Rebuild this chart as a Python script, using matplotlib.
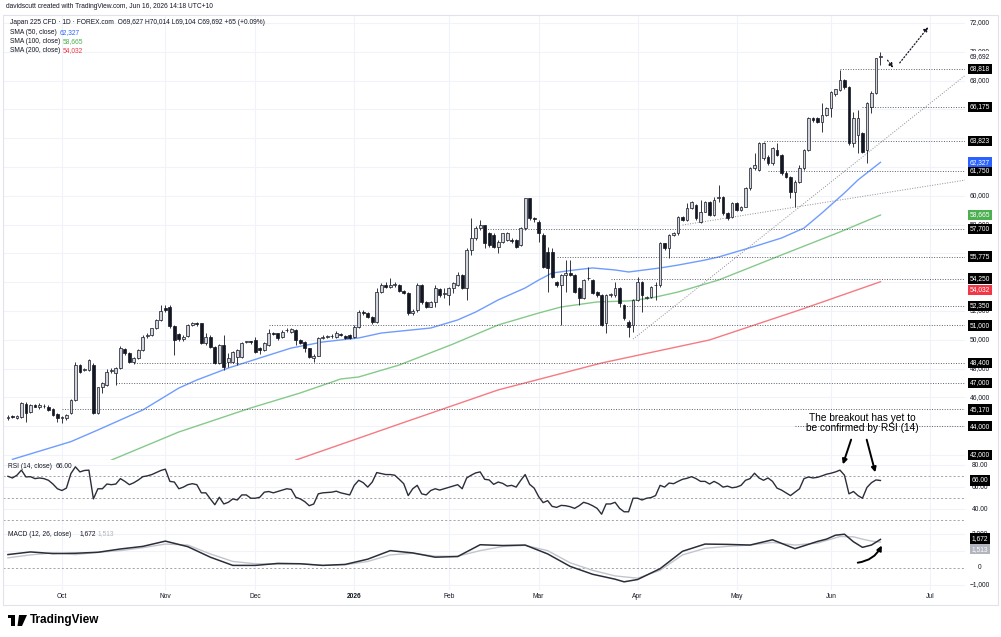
import numpy as np
import pandas as pd
import matplotlib
matplotlib.use("Agg")
import matplotlib.pyplot as plt
from matplotlib.transforms import blended_transform_factory
from matplotlib.patches import Rectangle, FancyArrowPatch, Polygon

plt.rcParams['font.family'] = ['Liberation Sans', 'DejaVu Sans']

# ---- data ----
holidays = pd.to_datetime(['2025-12-25', '2026-01-01'])
all_days = pd.bdate_range('2025-09-15', '2026-07-31')
all_days = all_days[~all_days.isin(holidays)]

opens = [44550, 44700, 44600, 44620, 45540, 45010, 45470, 45310, 45400, 45360,
         45190, 44850, 44600, 44550, 44890, 45820, 48250, 47900, 47900, 48250,
         44900, 46750, 46860, 47850, 47710, 48020, 49340, 49110, 48480, 48710,
         49290, 50250, 50330, 50800, 51380, 52200, 52250, 50960, 50400, 50030,
         50260, 51030, 51150, 51140, 49760, 50220, 49520, 48370, 49640, 48480,
         48480, 48830, 48830, 49850, 49870, 49990, 49400, 49290, 49640, 50450,
         50450, 50220, 50650, 50570, 50680, 49990, 49870, 49410, 48710, 48900,
         50150, 50200, 50250, 50220, 50350, 50260, 50330, 50220, 50910, 51950,
         51850, 51610, 51260, 53340, 53810, 53700, 53800, 53810, 53400, 53230,
         51840, 52100, 53810, 52600, 52300, 52600, 53530, 53200, 53110, 53580,
         53810, 54500, 53580, 56240, 57050, 57740, 57970, 57400, 57300, 56470,
         56820, 56940, 56960, 56940, 56580, 57740, 59830, 58440, 58200, 57280,
         56120, 56120, 54040, 53810, 54500, 54620, 54500, 53580, 52880, 54270,
         54150, 53340, 53110, 51140, 53110, 53110, 53580, 52420, 51260, 51030,
         52760, 54040, 52880, 53000, 53800, 53810, 56700, 56350, 57280, 57390,
         58550, 58320, 59130, 59360, 58200, 58900, 59590, 58670, 59820, 59940,
         58780, 58550, 59480, 59010, 59250, 60520, 61910, 61790, 62600, 62720,
         62250, 63180, 62830, 61610, 61330, 60290, 60980, 61910, 63180, 65380,
         65380, 65150, 65610, 66070, 67050, 67350, 68040, 67530, 63640, 64220,
         64340, 63180, 66190, 67160, 69627]
highs = [44750, 44800, 44800, 45700, 45650, 45550, 45550, 45600, 45550, 45450,
         45250, 44900, 44700, 44850, 45900, 48450, 48350, 48050, 48650, 48400,
         46750, 47050, 47950, 48050, 48100, 49550, 49400, 49150, 48800, 49350,
         50350, 50450, 50850, 51450, 52420, 52420, 52450, 51050, 50500, 50300,
         51100, 51260, 51260, 51200, 50500, 50300, 49600, 49700, 50330, 49060,
         49250, 49350, 49850, 49950, 49950, 50220, 49500, 49850, 50730, 50550,
         50500, 50650, 50800, 50800, 50750, 50050, 49950, 49450, 49000, 50220,
         50300, 50350, 50400, 50600, 50450, 50350, 50400, 51000, 52070, 52070,
         51900, 51650, 53580, 53920, 54040, 54270, 54000, 53900, 53450, 53300,
         52150, 53920, 53900, 52700, 52700, 53810, 53600, 53580, 53700, 54000,
         54730, 54600, 56400, 58440, 57900, 58320, 58000, 57500, 57400, 56900,
         57450, 57500, 57050, 57000, 57850, 59870, 59870, 58550, 58300, 57400,
         56470, 56350, 54100, 54600, 55540, 55540, 54600, 53650, 54250, 55080,
         54250, 53400, 53200, 53200, 53250, 54040, 53650, 52500, 51350, 52850,
         54390, 54100, 53050, 53750, 54040, 56800, 56750, 57350, 57510, 58600,
         58600, 59480, 59650, 59450, 59700, 59650, 59650, 59940, 60750, 60000,
         58850, 59600, 59550, 59300, 60600, 62000, 62950, 63750, 63750, 62800,
         63400, 63640, 62900, 61700, 61400, 61100, 62140, 63250, 65450, 65450,
         65450, 66420, 66150, 67300, 67450, 68740, 68100, 67600, 65840, 65960,
         64400, 66500, 67300, 69600, 70014]
lows = [44450, 44550, 44500, 44550, 44300, 44950, 45300, 45200, 45250, 45050,
        44700, 44300, 44200, 44450, 44850, 45750, 47700, 47800, 47850, 44850,
        44850, 46280, 46800, 47700, 46860, 47950, 48950, 48400, 48300, 48650,
        49200, 50100, 50250, 50750, 51300, 51950, 50850, 48950, 49900, 49950,
        50200, 50950, 50950, 49700, 49640, 49450, 48300, 48300, 47900, 48135,
        48400, 48250, 48750, 49750, 49700, 49060, 49000, 49200, 49600, 50300,
        50000, 50150, 50550, 50500, 49640, 49700, 49180, 48750, 48480, 48850,
        50050, 50100, 50150, 50150, 50250, 50050, 50050, 50150, 50800, 51750,
        51500, 51080, 51150, 53250, 53600, 53580, 53700, 53300, 53150, 51750,
        51700, 51950, 52500, 52200, 52250, 52300, 53000, 52880, 52420, 53230,
        53750, 53500, 52770, 55900, 56950, 57650, 56350, 56450, 56350, 56000,
        56700, 56850, 56700, 56350, 56500, 57650, 58300, 58200, 56800, 55000,
        53340, 54300, 53700, 51030, 53340, 54400, 53250, 52420, 52800, 54150,
        53150, 53000, 50950, 50450, 53000, 53000, 52300, 51400, 50220, 50570,
        52700, 51950, 52800, 52900, 52760, 53700, 56250, 55660, 57200, 57300,
        58250, 58250, 59050, 58350, 58100, 58850, 58600, 58600, 59590, 58700,
        58350, 58440, 58950, 58950, 59200, 60400, 61800, 61700, 62500, 62150,
        62150, 62750, 61450, 61250, 59820, 59240, 60900, 61800, 63100, 65150,
        65050, 64450, 65550, 65500, 66950, 67300, 67450, 63550, 63410, 62950,
        63000, 62250, 65730, 67100, 69104]
closes = [44650, 44620, 44680, 45590, 44940, 45470, 45360, 45470, 45380, 45120,
          44780, 44550, 44650, 44780, 45820, 48250, 47790, 47950, 48600, 44900,
          46700, 46980, 47790, 47900, 48020, 49410, 49060, 48480, 48710, 49290,
          50220, 50340, 50800, 51380, 52020, 52100, 50960, 49990, 50050, 50220,
          51030, 51140, 51120, 49800, 50220, 49520, 48370, 49640, 48135, 48710,
          49180, 49290, 49750, 49870, 49850, 49180, 49300, 49750, 50450, 50420,
          50100, 50570, 50700, 50730, 49990, 49800, 49410, 48830, 48900, 50100,
          50220, 50220, 50260, 50500, 50330, 50100, 50150, 50910, 51950, 51850,
          51610, 51260, 53340, 53810, 53700, 53810, 53880, 53390, 53230, 51840,
          52000, 53810, 52600, 52300, 52600, 53580, 53110, 53230, 53580, 53920,
          54500, 53580, 56240, 57050, 57740, 57970, 56700, 56580, 56470, 56820,
          57400, 57400, 56850, 56470, 57740, 59830, 58440, 58400, 57400, 55080,
          54960, 54390, 53810, 54500, 54620, 54500, 53340, 52880, 54150, 54300,
          53230, 53110, 51030, 53110, 53150, 53580, 52530, 51490, 50910, 52760,
          54040, 53110, 53000, 53690, 53810, 56700, 56350, 57280, 57390, 58550,
          58320, 59130, 59590, 58440, 58900, 59590, 58670, 59700, 59940, 58780,
          58440, 59480, 59010, 59250, 60520, 61910, 62140, 63640, 63640, 62250,
          63300, 62830, 61560, 61330, 60290, 60980, 61910, 63180, 65380, 65260,
          65150, 65610, 66070, 67230, 67390, 68040, 67530, 63640, 65380, 65380,
          63060, 66420, 67160, 69550, 69692]

sma50_bar = [1, 14, 20, 30, 38, 42, 49, 56, 63, 70, 78, 83, 94, 100, 104, 109, 115,
             118, 121, 126, 130, 135, 138, 145, 149, 155, 158, 167, 172, 177, 181,
             186, 189, 194]
sma50_val = [41700, 42930, 43740, 45130, 46650, 47210, 48040, 48740, 49430, 49850,
             50130, 50470, 50820, 51380, 51930, 52770, 53600, 54150, 54640, 54850,
             54990, 54850, 54710, 54990, 55190, 55540, 55750, 56580, 57070, 57760,
             58810, 60200, 61100, 62327]
sma100_bar = [23, 38, 54, 65, 74, 78, 87, 99, 109, 118, 123, 131, 138, 143, 149, 158,
              172, 185, 194]
sma100_val = [41650, 43600, 45270, 46310, 47280, 47420, 48250, 49710, 51030, 51860,
              52280, 52630, 52700, 52900, 53320, 54150, 55890, 57490, 58665]
sma200_bar = [64, 87, 109, 132, 156, 176, 194]
sma200_val = [41650, 44150, 46520, 48390, 49990, 52070, 54032]

rsi = [69.8, 68.3, 70.8, 75.4, 69.2, 69.5, 67.7, 68.3, 67.7, 66.2,
       62.8, 58.5, 56.9, 59.1, 72.3, 78.4, 73.8, 75.1, 75.4, 49.3,
       58.5, 58.5, 62.8, 62.2, 62.8, 67.7, 65.2, 62.2, 64.0, 66.5,
       69.5, 70.2, 71.4, 73.2, 75.1, 76.3, 65.2, 64.6, 58.5, 60.0,
       62.2, 63.1, 62.2, 54.8, 54.8, 49.3, 44.0, 50.8, 44.7, 46.2,
       49.3, 48.3, 52.9, 52.9, 49.9, 49.9, 50.8, 55.4, 56.0, 54.8,
       56.0, 57.3, 58.5, 57.9, 50.8, 49.3, 46.8, 43.1, 44.7, 53.9,
       54.8, 55.1, 55.4, 56.3, 54.8, 53.9, 52.9, 61.6, 66.2, 64.0,
       60.0, 64.6, 73.2, 72.3, 71.4, 71.4, 70.8, 67.1, 63.1, 52.3,
       58.5, 61.6, 53.9, 52.9, 56.9, 58.5, 57.3, 58.5, 59.7, 60.9,
       62.2, 58.5, 68.3, 70.8, 72.9, 73.8, 67.1, 66.5, 62.5, 64.6,
       63.4, 60.9, 61.6, 60.0, 66.0, 71.4, 62.5, 59.1, 51.4, 45.9,
       47.7, 42.5, 41.6, 43.4, 43.1, 42.2, 40.7, 43.1, 46.2, 45.0,
       43.1, 40.7, 35.4, 44.7, 44.7, 46.2, 40.7, 37.6, 37.6, 49.9,
       49.9, 48.3, 49.9, 50.5, 52.3, 61.6, 60.0, 63.7, 63.1, 65.2,
       67.1, 68.0, 69.5, 67.7, 65.2, 65.2, 62.8, 65.2, 63.1, 60.0,
       60.9, 59.4, 60.0, 61.6, 66.2, 67.7, 72.6, 68.3, 66.2, 68.3,
       65.2, 59.1, 57.3, 54.8, 52.3, 55.4, 58.5, 67.7, 69.2, 68.3,
       68.9, 70.2, 71.7, 72.6, 73.8, 75.4, 70.8, 53.9, 56.0, 52.3,
       49.9, 59.7, 64.0, 66.5, 66.0]

macd_bar = [0, 5, 10, 15, 20, 25, 30, 35, 40, 45, 50, 55, 60, 65, 70, 75, 80, 85,
            90, 95, 100, 105, 110, 115, 120, 125, 130, 135, 137, 140, 145, 150,
            155, 160, 165, 170, 175, 180, 182, 184, 186, 188, 190, 192, 194]
macd_val = [774, 930, 833, 852, 910, 1105, 1260, 1571, 1241, 619, 133, 133, 250,
            230, 133, 191, 502, 1008, 872, 619, 658, 1357, 1310, 1338, 813, 75,
            -392, -684, -840, -703, -62, 969, 1396, 1377, 1338, 1649, 1124, 1552,
            1688, 1921, 1980, 1532, 1202, 1338, 1672]
signal_bar = [0, 5, 10, 15, 20, 25, 30, 35, 40, 45, 50, 55, 60, 65, 70, 75, 80, 85,
              90, 95, 100, 105, 110, 115, 120, 125, 130, 135, 140, 145, 150, 155,
              160, 165, 170, 175, 180, 185, 188, 190, 192, 194]
signal_val = [580, 755, 872, 774, 910, 1008, 1183, 1396, 1338, 813, 366, 230, 211,
              230, 133, 172, 366, 755, 852, 677, 677, 1008, 1250, 1319, 1008, 288,
              -159, -489, -625, -159, 755, 1144, 1260, 1338, 1494, 1338, 1455, 1843,
              1824, 1688, 1571, 1513]

# support / resistance levels and the bar each dotted line starts from
levels = [68818, 66175, 63823, 61750, 57700, 55775, 54250, 52350, 51000, 48400,
          47000, 45170, 44000]
level_start = [185, 190, 168, 169, 106, 122, 134, 137, 58, 28, 24, 12, 175]
trend1 = ([139, 213], [50050, 68400])
trend2 = ([150, 213], [57970, 61100])
# round-number scale labels that stay visible next to the level boxes
scale_ticks = [72000, 70000, 68000, 60000, 58000, 52000, 50000, 48000, 46000]

# ---- layout helpers ----
W, H = 1001, 637
FS = 4.8
DARK = '#131722'


def fx(px):
    return px / W


def fy(py):
    return 1 - py / H


fig = plt.figure(figsize=(W / 100, H / 100), dpi=100)
ax = fig.add_axes([fx(3), fy(460), fx(962), (460 - 15) / H])
ax_rsi = fig.add_axes([fx(3), fy(525), fx(962), (525 - 461) / H], sharex=ax)
ax_macd = fig.add_axes([fx(3), fy(590), fx(962), (590 - 526) / H], sharex=ax)

n = len(closes)
x = np.arange(n)
month_pos = [i for i in range(1, len(all_days)) if all_days[i].month != all_days[i - 1].month]
month_pos = [p for p in month_pos if p < 213]
month_lbl = [all_days[p].strftime('%b') if all_days[p].month != 1 else str(all_days[p].year)
             for p in month_pos]

for a in (ax, ax_rsi, ax_macd):
    a.set_xlim(-1.1, 212.8)
    for s in a.spines.values():
        s.set_visible(False)
    a.tick_params(left=False, bottom=False, labelleft=False, labelbottom=False)
    for p in month_pos:
        a.axvline(p, color='#f0f3fa', lw=0.8, zorder=0)
ax.axhline(41654, color='#e0e3eb', lw=0.8)
ax_rsi.axhline(25.6, color='#e0e3eb', lw=0.8)

# ---- main price panel ----
ax.set_ylim(41654, 72556)
for gy in range(42000, 72001, 2000):
    ax.axhline(gy, color='#f0f3fa', lw=0.8, zorder=0)

o = np.array(opens)
c = np.array(closes)
up = c >= o
bot = np.minimum(o, c)
hgt = np.maximum(np.abs(c - o), 40)
ax.vlines(x, lows, highs, color=DARK, lw=0.6, zorder=3)
ax.bar(x[up], hgt[up], bottom=bot[up], width=0.62, color='#d1d4dc',
       edgecolor=DARK, linewidth=0.5, zorder=4)
ax.bar(x[~up], hgt[~up], bottom=bot[~up], width=0.62, color=DARK,
       edgecolor=DARK, linewidth=0.5, zorder=4)

ax.plot(sma50_bar, sma50_val, color='#6f9cff', lw=1.0, zorder=2)
ax.plot(sma100_bar, sma100_val, color='#86c98a', lw=1.0, zorder=2)
ax.plot(sma200_bar, sma200_val, color='#f57a82', lw=1.0, zorder=2)

for lv, st in zip(levels, level_start):
    ax.hlines(lv, st, 212.8, color='#5d606b', lw=0.7, linestyle=(0, (1, 1.6)), zorder=2)
ax.plot(*trend1, color='#8a8d96', lw=0.7, linestyle=(0, (1, 1.6)), zorder=2)
ax.plot(*trend2, color='#8a8d96', lw=0.7, linestyle=(0, (1, 1.6)), zorder=2)

# projected path arrows
ax.annotate('', xy=(197.2, 68740), xytext=(195.2, 69570),
            arrowprops=dict(arrowstyle='-|>', lw=0.9, ls=':', color=DARK, mutation_scale=6))
ax.annotate('', xy=(205, 71860), xytext=(197.9, 69080),
            arrowprops=dict(arrowstyle='-|>', lw=0.9, ls=':', color=DARK, mutation_scale=6))

# ---- RSI panel ----
ax_rsi.set_ylim(25.6, 83.7)
for gy in (80, 60, 40):
    ax_rsi.axhline(gy, color='#f0f3fa', lw=0.8, zorder=0)
for gy in (70, 50, 30):
    ax_rsi.axhline(gy, color='#9598a1', lw=0.6, linestyle=(0, (2.5, 2.5)), zorder=1)
ax_rsi.plot(x, rsi, color='#2a2e39', lw=1.0, zorder=3)

# ---- MACD panel ----
ax_macd.set_ylim(-1324, 2466)
for gy in (2000, 1000, -1000):
    ax_macd.axhline(gy, color='#f0f3fa', lw=0.8, zorder=0)
ax_macd.axhline(0, color='#9598a1', lw=0.6, linestyle=(0, (2.5, 2.5)), zorder=1)
ax_macd.plot(signal_bar, signal_val, color='#c3c5cc', lw=1.0, zorder=2)
ax_macd.plot(macd_bar, macd_val, color='#2a2e39', lw=1.1, zorder=3)


# ---- right price scale ----
def scale_label(a, y, text, fc=None, tc=DARK, dy=0):
    # dy: pixel shift used where the scale pushes crowded labels apart
    tr = blended_transform_factory(fig.transFigure, a.transData)
    kw = dict(transform=tr, ha='center', va='center', fontsize=FS, color=tc,
              clip_on=False, zorder=10)
    if fc is not None:
        kw['bbox'] = dict(boxstyle='square,pad=0.25', fc=fc, ec='none')
    t = a.text(fx(980), y, text, **kw)
    if dy:
        import matplotlib.transforms as mtransforms
        t.set_transform(tr + mtransforms.ScaledTranslation(0, -dy / 100, fig.dpi_scale_trans))


for gy in scale_ticks:
    scale_label(ax, gy, f'{gy:,}')
scale_label(ax, 69692, '69,692', fc='white')
for lv in levels:
    scale_label(ax, lv, f'{lv:,}', fc='black', tc='white')
scale_label(ax, 42000, '42,000', fc='black', tc='white')
scale_label(ax, 62327, '62,327', fc='#2962ff', tc='white')
scale_label(ax, 58665, '58,665', fc='#4caf50', tc='white')
scale_label(ax, 54032, '54,032', fc='#f23645', tc='white', dy=8)

for gy in (80, 60, 40):
    scale_label(ax_rsi, gy, f'{gy:.2f}')
scale_label(ax_rsi, 66, '66.00', fc='black', tc='white')

scale_label(ax_macd, 2000, '2,000')
scale_label(ax_macd, 0, '0')
scale_label(ax_macd, -1000, '\u22121,000')
scale_label(ax_macd, 1672, '1,672', fc='black', tc='white', dy=-1)
scale_label(ax_macd, 1513, '1,513', fc='#b2b5be', tc='white', dy=7)

# month labels
trx = blended_transform_factory(ax_macd.transData, fig.transFigure)
for p, lb in zip(month_pos, month_lbl):
    ax_macd.text(p, fy(597), lb, transform=trx, ha='center', va='center', fontsize=FS,
                 color=DARK, fontweight='bold' if lb.isdigit() else 'normal', clip_on=False)

# ---- texts ----
fig.text(fx(6), fy(6), 'davidscutt created with TradingView.com, Jun 16, 2026 14:18 UTC+10',
         fontsize=FS, color=DARK, va='center')
fig.text(fx(10), fy(22.5), 'Japan 225 CFD \u00b7 1D \u00b7 FOREX.com  O69,627 H70,014 L69,104 C69,692 +65 (+0.09%)',
         fontsize=FS, color=DARK, va='center')
fig.text(fx(10), fy(32.5), 'SMA (50, close)', fontsize=FS, color=DARK, va='center')
fig.text(fx(60), fy(32.5), '62,327', fontsize=FS, color='#2962ff', va='center')
fig.text(fx(10), fy(41.5), 'SMA (100, close)', fontsize=FS, color=DARK, va='center')
fig.text(fx(63), fy(41.5), '58,665', fontsize=FS, color='#4caf50', va='center')
fig.text(fx(10), fy(50.5), 'SMA (200, close)', fontsize=FS, color=DARK, va='center')
fig.text(fx(63), fy(50.5), '54,032', fontsize=FS, color='#f23645', va='center')

fig.text(fx(8), fy(466), 'RSI (14, close)', fontsize=FS, color=DARK, va='center')
fig.text(fx(56), fy(466), '66.00', fontsize=FS, color=DARK, va='center')
fig.text(fx(8), fy(534), 'MACD (12, 26, close)', fontsize=FS, color=DARK, va='center')
fig.text(fx(80), fy(534), '1,672', fontsize=FS, color=DARK, va='center')
fig.text(fx(98), fy(534), '1,513', fontsize=FS, color='#b2b5be', va='center')

fig.text(fx(862), fy(423), 'The breakout has yet to\nbe confirmed by RSI (14)',
         fontsize=7.3, color='black', ha='center', va='center', linespacing=1.05)

for (x0, y0), (x1, y1) in [((852, 437), (842, 467)), ((866, 437), (876, 475))]:
    fig.patches.append(FancyArrowPatch((fx(x0), fy(y0)), (fx(x1), fy(y1)),
                                       transform=fig.transFigure, arrowstyle='-|>',
                                       mutation_scale=7, lw=1.4, color='black'))
fig.patches.append(FancyArrowPatch((fx(855), fy(563)), (fx(883), fy(543)),
                                   transform=fig.transFigure, arrowstyle='-|>',
                                   connectionstyle='arc3,rad=0.3',
                                   mutation_scale=7, lw=1.4, color='black'))

# outer frame
fig.patches.append(Rectangle((fx(3), fy(605)), fx(995), (605 - 15) / H, transform=fig.transFigure,
                             fill=False, ec='#e0e3eb', lw=0.8))

# TradingView logo
fig.patches.append(Rectangle((fx(8), fy(618)), fx(7), 3 / H, transform=fig.transFigure,
                             fc='black', ec='none'))
fig.patches.append(Rectangle((fx(11), fy(626)), fx(3.5), 8 / H, transform=fig.transFigure,
                             fc='black', ec='none'))
fig.patches.append(Polygon([(fx(19), fy(615)), (fx(27), fy(615)), (fx(22), fy(626)), (fx(17.5), fy(626))],
                           closed=True, transform=fig.transFigure, fc='black', ec='none'))
fig.text(fx(30), fy(620.5), 'TradingView', fontsize=8.5, fontweight='bold', color='black', va='center')

fig.savefig('out.png', dpi=100, facecolor='white')
